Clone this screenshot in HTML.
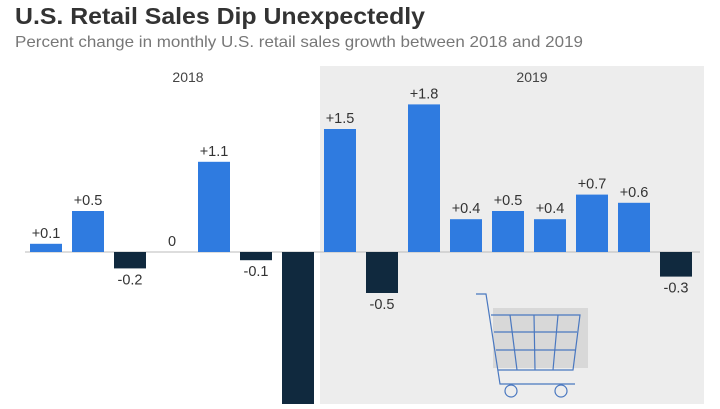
<!DOCTYPE html>
<html><head><meta charset="utf-8"><style>
body{margin:0;width:720px;height:404px;overflow:hidden;background:#fff;font-family:"Liberation Sans",sans-serif;}
</style></head><body>
<svg width="720" height="404" xmlns="http://www.w3.org/2000/svg">
<text x="15" y="24" font-size="23" font-weight="bold" fill="#333" textLength="410" lengthAdjust="spacingAndGlyphs">U.S. Retail Sales Dip Unexpectedly</text>
<text x="15" y="47" font-size="16" fill="#777" textLength="568" lengthAdjust="spacingAndGlyphs">Percent change in monthly U.S. retail sales growth between 2018 and 2019</text>
<rect x="320" y="66" width="384" height="340" fill="#ededed"/>
<text x="188" y="82" font-size="14" fill="#444" text-anchor="middle">2018</text>
<text x="532" y="82" font-size="14" fill="#444" text-anchor="middle">2019</text>
<g fill="none" stroke="#4a78c0" stroke-width="1.2">
<rect x="493" y="308" width="95" height="60" fill="#d8d8d8" stroke="none"/>
<path d="M476 294H486L500 384H575"/>
<path d="M491 315H580L573 370H498"/>
<path d="M494 332H577M496 350H575"/>
<path d="M510 315L517 370M534 315L535 370M558 315L553 370"/>
<circle cx="511" cy="391" r="6"/><circle cx="561" cy="391" r="6"/>
</g>
<line x1="25" y1="252" x2="700" y2="252" stroke="#bbb" stroke-width="1"/>
<g id="bars"></g>
</svg>
<script>
const months=["Jan18","Feb18","Mar18","Apr18","May18","Jun18","Jul18","Dec18","Jan19","Feb19","Mar19","Apr19","May19","Jun19","Jul19","Aug19"];
const values=[0.1,0.5,-0.2,0,1.1,-0.1,-2.0,1.5,-0.5,1.8,0.4,0.5,0.4,0.7,0.6,-0.3];
const labels=["+0.1","+0.5","-0.2","0","+1.1","-0.1","","+1.5","-0.5","+1.8","+0.4","+0.5","+0.4","+0.7","+0.6","-0.3"];
const x0=46,step=42,bw=32,zeroY=252,k=82;
const xs=i=>x0+i*step, ys=v=>zeroY-v*k;
const g=document.getElementById('bars');
const NS="http://www.w3.org/2000/svg";
values.forEach((v,i)=>{
  const r=document.createElementNS(NS,'rect');
  
  
  r.setAttribute('x',xs(i)-bw/2);
  r.setAttribute('y',Math.min(ys(v),zeroY));
  r.setAttribute('width',bw);
  r.setAttribute('height',Math.abs(ys(v)-zeroY));
  r.setAttribute('fill',v>=0?'#2f7be0':'#10293e');
  g.appendChild(r);
  if(labels[i]){
    const t=document.createElementNS(NS,'text');
    
    
    t.setAttribute('x',xs(i));
    t.setAttribute('y',v>=0?ys(v)-6:ys(v)+16);
    t.setAttribute('text-anchor','middle');
    t.setAttribute('font-size','14.5');
    t.setAttribute('fill','#333');
    t.textContent=labels[i];
    g.appendChild(t);
  }
});
</script>
</body></html>
